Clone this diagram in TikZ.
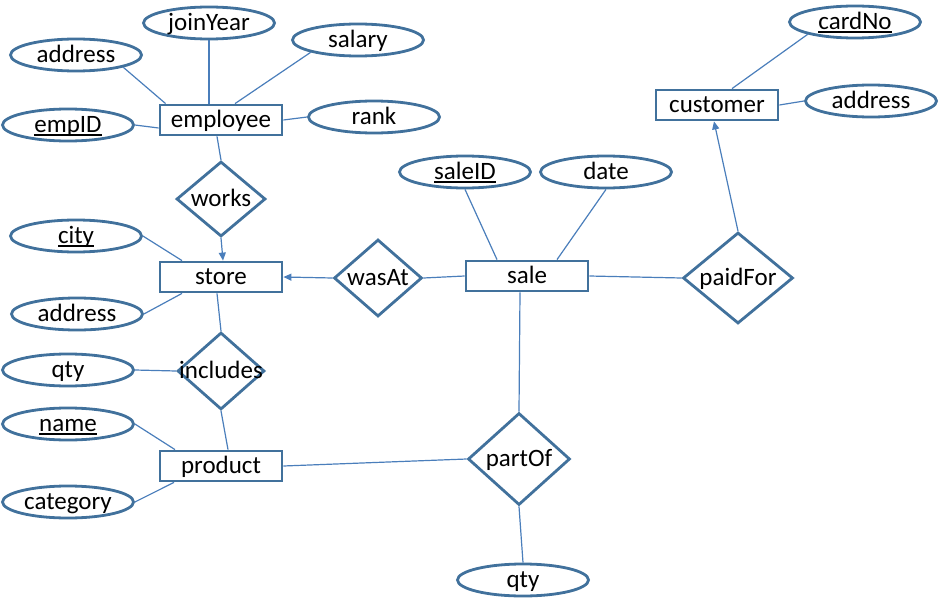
\documentclass[tikz,border=0pt]{standalone}
\usepackage{fontspec}
\setmainfont{Carlito}
\usetikzlibrary{shapes.geometric,arrows.meta}
\definecolor{erborder}{HTML}{41719C}
\definecolor{erline}{HTML}{4A7EBB}
\newlength\keywd
\newcommand\keyattr[1]{\settowidth\keywd{#1}\rlap{\rule[-3.2pt]{\keywd}{1.4pt}}#1}

\begin{document}
\begin{tikzpicture}[x=1pt,y=-1pt,
  every node/.style={font=\fontsize{25}{28}\selectfont, text height=15pt, text depth=0pt, inner sep=0pt},
  entity/.style={draw=erborder, line width=2.8pt, rectangle, minimum width=122pt, minimum height=30pt},
  attr/.style={draw=erborder, line width=2.8pt, ellipse, minimum width=131pt, minimum height=32pt},
  rel/.style={draw=erborder, line width=2.8pt, diamond},
  link/.style={draw=erline, line width=1.2pt},
  tip/.style={-{Triangle[length=8pt,width=7pt]}}]
			\useasboundingbox (0,0) rectangle (940,610);
			% entities
			\node[entity] (employee) at (221,120) {employee};
			\node[entity] (store) at (221,277) {store};
			\node[entity] (product) at (221,466) {product};
			\node[entity] (sale) at (527,276) {sale};
			\node[entity] (customer) at (717,105) {customer};
			% relationships
			\node[rel, minimum width=89pt, minimum height=75pt] (works) at (221,199) {\makebox[0pt]{works}};
			\node[rel, minimum width=88pt, minimum height=77pt] (wasAt) at (378,278) {\makebox[0pt]{wasAt}};
			\node[rel, minimum width=87pt, minimum height=77pt] (includes) at (221,371) {\makebox[0pt]{includes}};
			\node[rel, minimum width=102pt, minimum height=92pt] (partOf) at (519,459) {\makebox[0pt]{partOf}};
			\node[rel, minimum width=110pt, minimum height=91pt] (paidFor) at (738,278) {\makebox[0pt]{paidFor}};
			% attributes
			\node[attr] (joinYear) at (209,23) {joinYear};
			\node[attr] (empAddr) at (76,55) {address};
			\node[attr] (salary) at (358,40) {salary};
			\node[attr] (empID) at (68,125) {\keyattr{empID}};
			\node[attr] (rank) at (374,117) {rank};
			\node[attr] (cardNo) at (855,22) {\keyattr{cardNo}};
			\node[attr] (custAddr) at (871,101) {address};
			\node[attr] (city) at (76,236) {\keyattr{city}};
			\node[attr] (storeAddr) at (77,314) {address};
			\node[attr] (incQty) at (68,370) {qty};
			\node[attr] (name) at (68,424) {\keyattr{name}};
			\node[attr] (category) at (68,502) {category};
			\node[attr] (saleID) at (465,172) {\keyattr{saleID}};
			\node[attr] (date) at (606,172) {date};
			\node[attr] (partQty) at (523,580) {qty};
			% connectors
			\draw[link] (empAddr.south east) -- ([xshift=7pt]employee.north west);
			\draw[link] (joinYear.south) -- (joinYear.south |- employee.north);
			\draw[link] (salary.south west) -- ([xshift=14pt]employee.north);
			\draw[link] (empID.east) -- ([yshift=-8pt]employee.west);
			\draw[link] (rank.west) -- (employee.east);
			\draw[link] ([xshift=-4pt]employee.south) -- (works.north);
			\draw[link, tip] (works.south) -- ([xshift=2pt]store.north);
			\draw[link] (city.east) -- ([xshift=-39pt]store.north);
			\draw[link] (storeAddr.east) -- ([xshift=-39pt]store.south);
			\draw[link] ([xshift=-4pt]store.south) -- (includes.north);
			\draw[link, tip] (wasAt.west) -- (store.east);
			\draw[link] (sale.west) -- (wasAt.east);
			\draw[link] (incQty.east) -- (includes.west);
			\draw[link] (includes.south) -- ([xshift=7pt]product.north);
			\draw[link] (name.east) -- ([xshift=-46pt]product.north);
			\draw[link] (category.east) -- ([xshift=-47pt]product.south);
			\draw[link] (product.east) -- (partOf.west);
			\draw[link] ([xshift=-7pt]sale.south) -- (partOf.north);
			\draw[link] (partOf.south) -- (partQty.north);
			\draw[link] (saleID.south) -- ([xshift=-30pt]sale.north);
			\draw[link] (date.south) -- ([xshift=30pt]sale.north);
			\draw[link] (sale.east) -- (paidFor.west);
			\draw[link, tip] (paidFor.north) -- ([xshift=-3pt]customer.south);
			\draw[link] (cardNo.south west) -- ([xshift=15pt]customer.north);
			\draw[link] (custAddr.west) -- (customer.east);
\end{tikzpicture}
\end{document}
